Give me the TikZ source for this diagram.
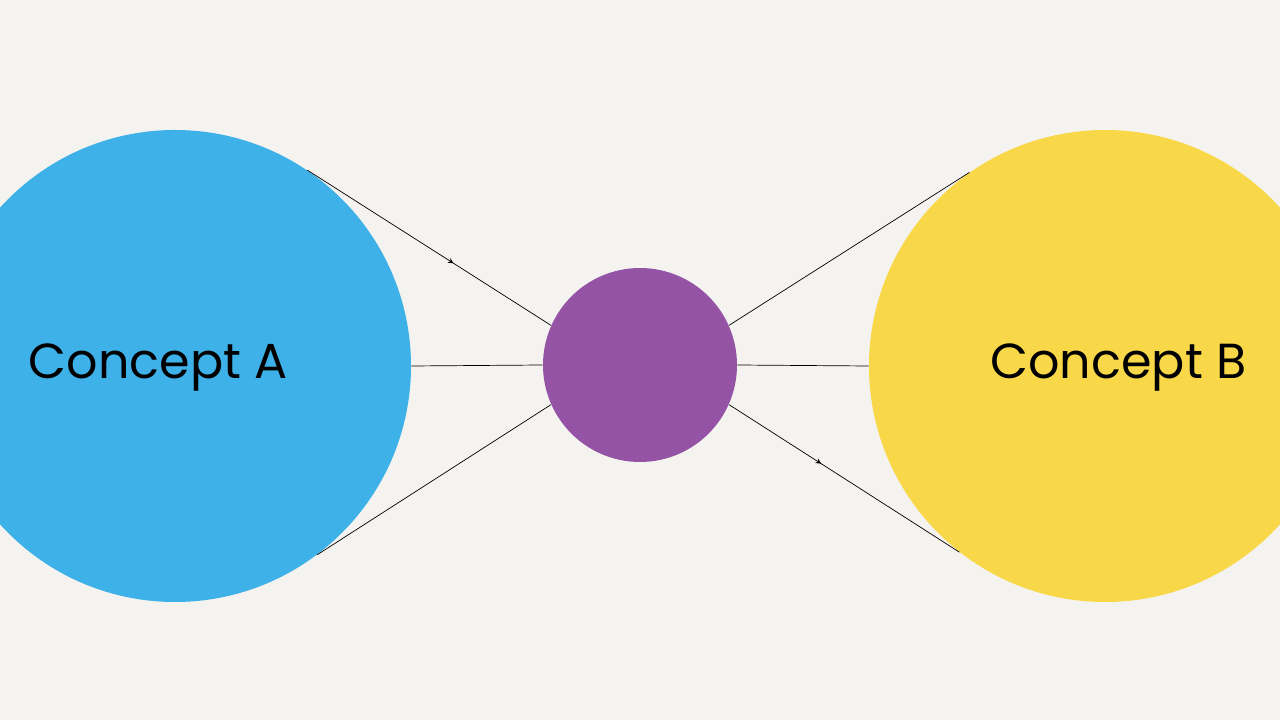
\documentclass[tikz,border=0pt]{standalone}
\usepackage{fontspec}
\setmainfont{Poppins}
\usetikzlibrary{positioning,decorations.markings}
\definecolor{bgcol}{HTML}{F5F3F0}
\definecolor{bluecol}{HTML}{3DB1E8}
\definecolor{purplecol}{HTML}{9553A6}
\definecolor{yellowcol}{HTML}{F8D848}
\tikzset{
  concept/.style={circle,minimum size=9.44cm,inner sep=0pt,font=\fontsize{28}{32}\selectfont},
  link/.style={thin,black},
  midarrow/.style={postaction={decorate},decoration={markings,mark=at position #1 with {\arrow{stealth}}}}
}
\begin{document}
\begin{tikzpicture}[>=stealth]
    \fill[bgcol] (0,0) rectangle (25.6,14.4);
    \useasboundingbox (0,0) rectangle (25.6,14.4);

    \node[concept,fill=bluecol] (A) at (3.5,7.08) {};
    \node[concept,fill=yellowcol] (B) at (22.1,7.08) {};
    \node[circle,fill=purplecol,minimum size=3.88cm,inner sep=0pt] (C) at (12.8,7.1) {};

    \node[font=\fontsize{28}{32}\selectfont,anchor=west] (LA) at (0.45,7.05) {Concept A};
    \node[font=\fontsize{28}{32}\selectfont,anchor=east] (LB) at (25.05,7.05) {Concept B};

%   left side
	\draw[link,midarrow=0.6]  (A.56) -- (C.156);
	\draw[link]  (A.0) -- (C.180);
	\draw[link]  (A.-53) -- (C.204);

%   right side
	\draw[link]  (C.24) -- (B.125);
	\draw[link]  (C.0) -- (B.180);
	\draw[link,midarrow=0.4]  (C.-24) -- (B.232);
\end{tikzpicture}
\end{document}
